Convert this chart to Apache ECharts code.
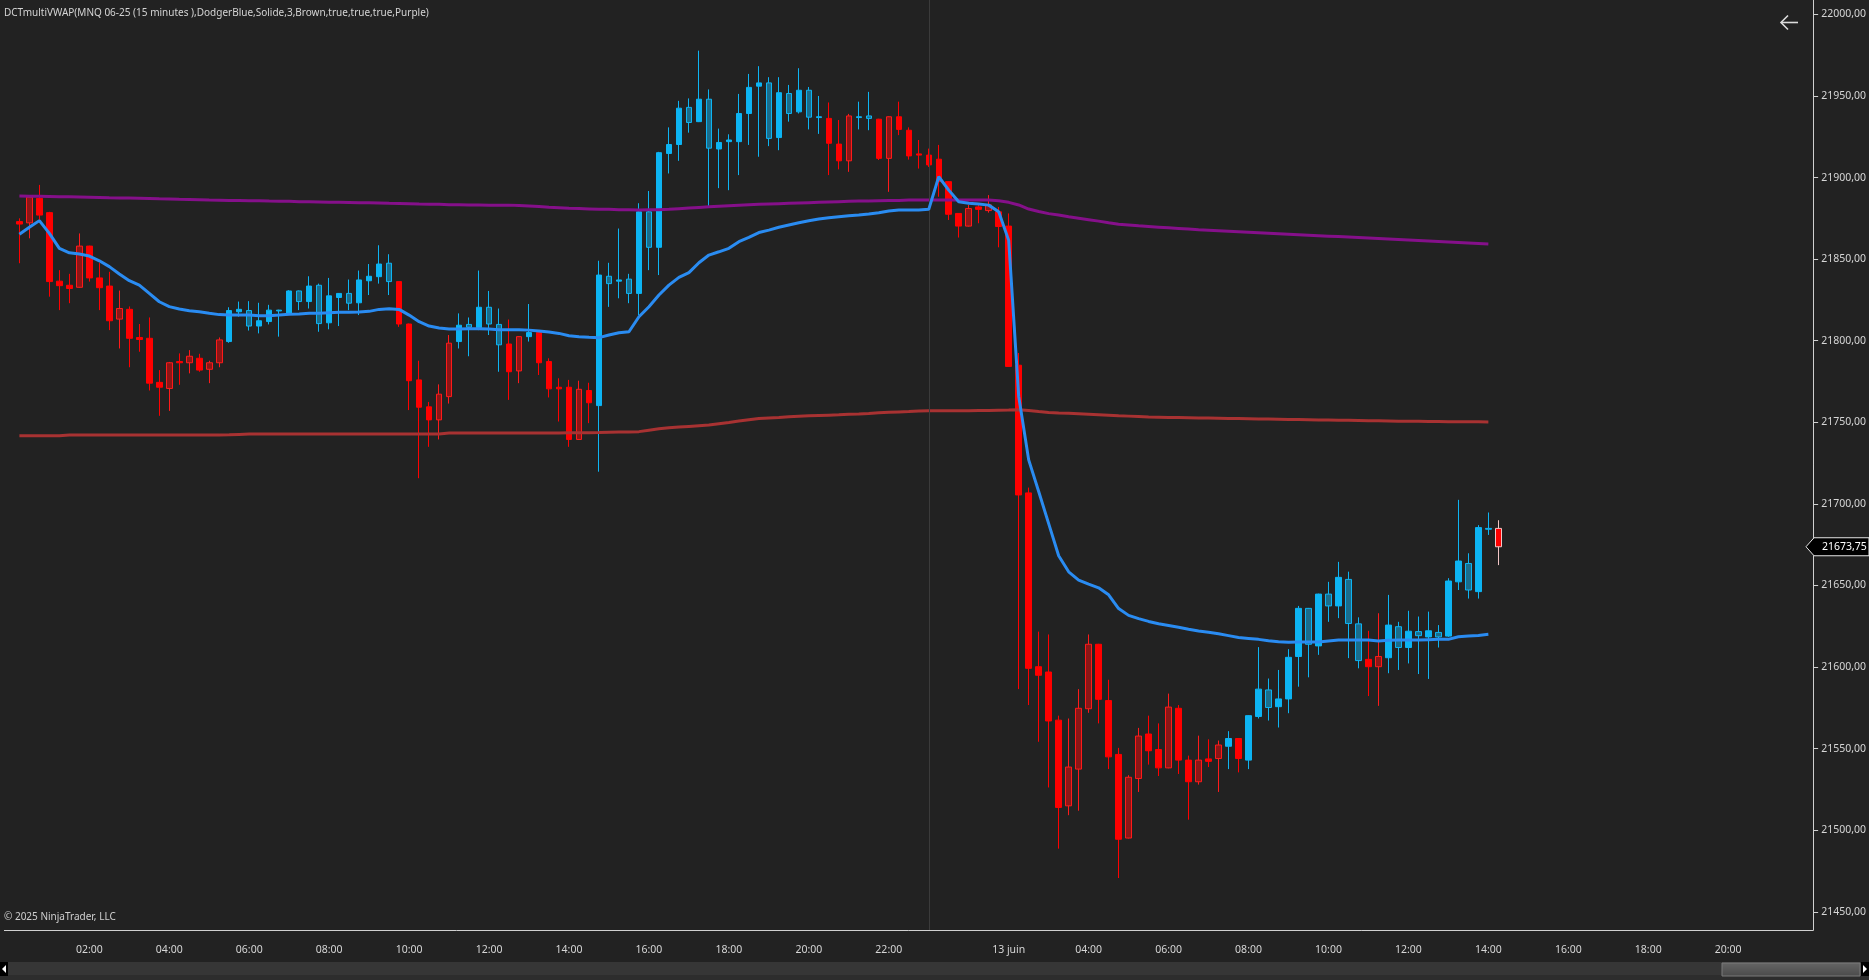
<!DOCTYPE html>
<html>
<head>
<meta charset="utf-8">
<title>MNQ 06-25 (15 minutes)</title>
<script src="https://cdn.jsdelivr.net/npm/echarts@6.0.0/dist/echarts.min.js"></script>
<style>
  html, body { margin: 0; padding: 0; background: #222222; }
  #chart { width: 1869px; height: 980px; }
</style>
</head>
<body>
<div id="chart"></div>
<script>
// 15 minute bars, first bar sits in slot 1 (00:15 on 12 june), slot 100 = 02:00 on 13 june
const firstSlot = 1;
const slotCount = 181;

const open = [
  21873, 21872.25, 21887.25, 21878.5, 21836.5, 21834, 21832.75, 21858, 21838.5, 21833.5,
  21813.25, 21819.25, 21802, 21801.5, 21774.5, 21770.75, 21787.25, 21786.5, 21789.25, 21782.5,
  21786.5, 21799.5, 21817.75, 21818.5, 21809, 21811.75, 21818.25, 21816.75, 21830.5, 21824,
  21834, 21811, 21826.5, 21829, 21823.25, 21836.75, 21839.25, 21847.5, 21836.25, 21810.25,
  21776, 21759.5, 21751.5, 21765.75, 21799.5, 21810, 21808, 21820.5, 21810, 21798,
  21781.5, 21802.5, 21805, 21787.25, 21771.5, 21771.5, 21739.5, 21769.5, 21760.25, 21839.5,
  21836.5, 21837.75, 21829, 21879, 21857.25, 21914.75, 21920.25, 21943, 21934.25, 21948,
  21917.5, 21922, 21922, 21939.25, 21956, 21958, 21924.5, 21951.5, 21940.25, 21953.5,
  21936.75, 21936.25, 21920.5, 21910.25, 21936.75, 21937.75, 21935.75, 21911.75, 21937.25, 21929,
  21914.5, 21913.75, 21911.25, 21897.5, 21878, 21870.25, 21882, 21879.75, 21879, 21870.25,
  21785, 21706.75, 21600.25, 21597, 21567.5, 21515, 21537.5, 21574.5, 21614, 21579.5,
  21546.5, 21495.25, 21531.75, 21559, 21549.5, 21538.25, 21574.75, 21543, 21529.75, 21543.75,
  21544, 21551.5, 21556.25, 21543, 21569.75, 21586, 21575.75, 21580.5, 21606.5, 21636,
  21613, 21644.75, 21637.5, 21653.75, 21626.5, 21604.75, 21600.25, 21605.75, 21624.75, 21612,
  21621.75, 21618.5, 21621.25, 21619, 21652.25, 21663.5, 21646.25, 21684.5, 21685
];
const high = [
  21875, 21889.25, 21895.5, 21879, 21843.25, 21841, 21865.75, 21858.25, 21847.75, 21842.25,
  21830.75, 21821, 21810.25, 21814.25, 21782, 21787, 21792.25, 21794.25, 21792, 21787.75,
  21802, 21820.5, 21824, 21824.25, 21823.25, 21822, 21819, 21831, 21830.75, 21839.5,
  21835, 21838.5, 21829.25, 21837.5, 21843, 21847, 21858.5, 21853, 21836.5, 21810.5,
  21787.75, 21762.5, 21773.25, 21803.5, 21816.75, 21814.25, 21843, 21830.5, 21819.75, 21813,
  21802.75, 21822.5, 21805.25, 21789.25, 21777, 21776, 21775.5, 21774.25, 21849, 21847.75,
  21868.75, 21841, 21884.25, 21891.75, 21915.75, 21930.75, 21947, 21948.5, 21977.75, 21954,
  21930, 21926.5, 21951.25, 21963.5, 21968.25, 21961.5, 21961.5, 21956.75, 21967, 21955.5,
  21950, 21946, 21935.25, 21939, 21946.5, 21952.5, 21936, 21937.5, 21946.5, 21930.75,
  21923, 21917.75, 21920, 21897.75, 21878.25, 21883.25, 21884.25, 21889.25, 21882, 21878,
  21792.5, 21710, 21621.75, 21620, 21570.25, 21568.5, 21586.5, 21620, 21614.25, 21592.25,
  21550.5, 21533.75, 21562.75, 21570.25, 21565.5, 21583.75, 21576.75, 21545.75, 21558, 21555.75,
  21555, 21560.75, 21556.5, 21570.5, 21612.25, 21593, 21598.25, 21611, 21637.5, 21636.25,
  21645, 21652.25, 21664.5, 21658.5, 21630.5, 21622.25, 21633, 21644.25, 21627.75, 21634.5,
  21631, 21634, 21625.75, 21654.5, 21702.5, 21669.75, 21687, 21694.75, 21690
];
const low = [
  21847.5, 21862.75, 21874, 21827, 21818.75, 21823, 21832.5, 21836.25, 21818.75, 21806.5,
  21795.25, 21783.75, 21793.25, 21769.5, 21754, 21757, 21773, 21780, 21781, 21774,
  21783.75, 21798.75, 21814.75, 21806.25, 21804.5, 21810, 21802.5, 21816.5, 21818.75, 21819.75,
  21805.5, 21807, 21809, 21818.75, 21815.75, 21828, 21835, 21828, 21808.5, 21757.5,
  21715.75, 21735, 21739.5, 21761.5, 21795.25, 21790.5, 21806.5, 21803.5, 21781, 21763.75,
  21774, 21799.5, 21779, 21765.25, 21750.5, 21735, 21739.25, 21749.5, 21719.75, 21820.75,
  21826, 21823, 21815.75, 21843.25, 21840.25, 21902.5, 21910.25, 21927.5, 21934, 21882.5,
  21893.5, 21892.25, 21901.5, 21920, 21912.75, 21919.25, 21916.75, 21934.25, 21939.25, 21929.5,
  21926.75, 21901.5, 21905, 21903.5, 21929.5, 21929, 21910.75, 21891.25, 21926, 21911,
  21905.5, 21906.5, 21888.25, 21874, 21863.25, 21870, 21872, 21878.5, 21857.25, 21784,
  21586.5, 21576.75, 21554.25, 21526.25, 21488.75, 21509.25, 21512, 21572, 21565.5, 21537.5,
  21470.75, 21495, 21523.5, 21540.25, 21533.25, 21538, 21534.5, 21506.5, 21528, 21538.75,
  21523.5, 21537.5, 21535.5, 21537.5, 21568.5, 21567.25, 21563, 21571.75, 21588, 21593.75,
  21607.5, 21627.75, 21630, 21605.5, 21599.25, 21582.25, 21576.25, 21596.25, 21598.25, 21602.25,
  21595.75, 21592.75, 21612, 21618.5, 21647.25, 21642, 21642, 21681, 21662.5
];
const close = [
  21871.5, 21888, 21877, 21836.25, 21833.75, 21832, 21858, 21838.5, 21832.5, 21812.25,
  21819.75, 21801.5, 21800.75, 21774, 21771.5, 21786.5, 21786.5, 21790.5, 21782, 21786.5,
  21800.5, 21818.5, 21819.25, 21809, 21812.25, 21818.75, 21818.75, 21830.5, 21824, 21833.5,
  21810.5, 21827.5, 21829, 21823, 21837.25, 21839.5, 21847, 21836.25, 21810.25, 21775.5,
  21759.25, 21751.5, 21767.25, 21798.5, 21809.5, 21808.25, 21820.5, 21810.25, 21797.5, 21781,
  21802.5, 21805, 21786.5, 21770.5, 21770.5, 21739.5, 21770.25, 21762, 21840.25, 21835,
  21837.25, 21829, 21879, 21857.25, 21915.25, 21920.25, 21942.5, 21933.75, 21948, 21918,
  21921.5, 21923, 21939.25, 21955.25, 21958, 21924, 21952, 21939.25, 21953.5, 21937,
  21937.25, 21921, 21910.25, 21937.75, 21937.25, 21936.25, 21911.75, 21937.25, 21929.5, 21913.25,
  21913.75, 21907.75, 21897.5, 21877.5, 21870.25, 21881, 21880.5, 21883.25, 21870, 21784.25,
  21705.5, 21599.25, 21595, 21567, 21514, 21538.75, 21574.75, 21614, 21580.25, 21545,
  21494.5, 21532.5, 21557.75, 21548.75, 21538.25, 21575.5, 21543, 21529.75, 21543, 21542.25,
  21552.25, 21556.25, 21544, 21570.25, 21586.5, 21575.25, 21580.5, 21606, 21636, 21614,
  21644.75, 21637.5, 21655, 21626.75, 21604, 21600.25, 21606.5, 21625.75, 21612, 21622,
  21619.25, 21622.25, 21618.5, 21652.75, 21665, 21647.25, 21685.5, 21685, 21673.75
];
// bar colour state painted by the indicator: 1 = blue, -1 = red
const trend = [
  -1, -1, -1, -1, -1, -1, -1, -1, -1, -1,
  -1, -1, -1, -1, -1, -1, -1, -1, -1, -1,
  -1, 1, 1, 1, 1, 1, 1, 1, 1, 1,
  1, 1, 1, 1, 1, 1, 1, 1, -1, -1,
  -1, -1, -1, -1, 1, 1, 1, 1, 1, -1,
  -1, 1, -1, -1, -1, -1, -1, -1, 1, 1,
  1, 1, 1, 1, 1, 1, 1, 1, 1, 1,
  1, 1, 1, 1, 1, 1, 1, 1, 1, 1,
  1, -1, -1, -1, 1, 1, -1, -1, -1, -1,
  -1, -1, -1, -1, -1, -1, -1, -1, -1, -1,
  -1, -1, -1, -1, -1, -1, -1, -1, -1, -1,
  -1, -1, -1, -1, -1, -1, -1, -1, -1, -1,
  -1, 1, -1, 1, 1, 1, 1, 1, 1, 1,
  1, 1, 1, 1, 1, -1, -1, 1, 1, 1,
  1, 1, 1, 1, 1, 1, 1, 1, -1
];

// VWAP (DodgerBlue) and the two longer VWAPs (Purple, Brown), one value per closed bar
const vwap = [
  21865.2, 21869.5, 21873.6, 21865.8, 21856.6, 21853.9, 21853.1, 21851.9, 21849.0, 21845.4,
  21840.9, 21836.8, 21834.1, 21829.0, 21823.9, 21820.9, 21819.4, 21818.4, 21817.8, 21816.8,
  21816.0, 21815.8, 21815.8, 21815.7, 21815.3, 21815.3, 21815.7, 21816.2, 21816.4, 21816.8,
  21816.8, 21817.2, 21817.4, 21817.4, 21817.6, 21818.0, 21819.2, 21819.6, 21819.2, 21815.7,
  21811.7, 21809.0, 21807.8, 21807.2, 21807.2, 21807.4, 21807.4, 21807.2, 21806.8, 21806.8,
  21806.8, 21806.5, 21805.9, 21805.3, 21804.5, 21803.1, 21802.5, 21802.1, 21801.9, 21803.5,
  21804.9, 21805.5, 21814.7, 21820.8, 21828.0, 21834.1, 21838.8, 21841.7, 21847.8, 21852.5,
  21854.5, 21856.6, 21860.7, 21863.3, 21866.3, 21867.8, 21869.5, 21870.9, 21872.3, 21873.5,
  21874.6, 21875.4, 21876.0, 21876.6, 21877.0, 21877.6, 21878.4, 21879.5, 21880.1, 21880.1,
  21880.1, 21880.5, 21900.5, 21892.3, 21885.2, 21884.2, 21883.8, 21883.1, 21879.1, 21861.5,
  21766.0, 21727.0, 21707.6, 21687.9, 21668.2, 21658.4, 21653.3, 21650.8, 21648.6, 21644.3,
  21635.9, 21631.7, 21629.7, 21628.0, 21626.6, 21625.5, 21624.4, 21623.2, 21622.1, 21621.3,
  21620.4, 21619.3, 21618.2, 21617.6, 21617.0, 21616.2, 21615.6, 21615.2, 21615.4, 21615.4,
  21615.4, 21616.0, 21616.6, 21616.6, 21616.6, 21616.6, 21616.0, 21616.4, 21616.6, 21616.6,
  21616.6, 21616.8, 21617.0, 21617.0, 21618.6, 21619.0, 21619.4, 21620.1
];
const purpleVwap = [
  21888.7, 21888.6, 21888.5, 21888.4, 21888.3, 21888.2, 21888.1, 21888.0, 21887.8, 21887.6,
  21887.5, 21887.4, 21887.3, 21887.2, 21887.0, 21886.9, 21886.7, 21886.6, 21886.4, 21886.2,
  21886.1, 21886.0, 21885.9, 21885.8, 21885.8, 21885.6, 21885.5, 21885.4, 21885.2, 21885.1,
  21885.0, 21884.9, 21884.8, 21884.7, 21884.6, 21884.5, 21884.4, 21884.2, 21884.1, 21884.0,
  21883.8, 21883.7, 21883.6, 21883.4, 21883.3, 21883.2, 21883.2, 21883.1, 21883.1, 21883.1,
  21882.8, 21882.5, 21882.2, 21881.8, 21881.5, 21881.2, 21881.0, 21880.8, 21880.6, 21880.5,
  21880.3, 21880.2, 21880.1, 21880.2, 21880.3, 21880.5, 21880.9, 21881.3, 21881.7, 21882.1,
  21882.4, 21882.7, 21883.0, 21883.3, 21883.6, 21883.8, 21884.0, 21884.2, 21884.4, 21884.6,
  21884.8, 21885.0, 21885.2, 21885.4, 21885.6, 21885.7, 21885.8, 21885.9, 21886.0, 21886.2,
  21886.2, 21886.2, 21886.3, 21886.3, 21886.2, 21886.2, 21886.2, 21886.2, 21885.8, 21884.8,
  21883.2, 21880.7, 21879.2, 21877.9, 21877.0, 21876.0, 21875.1, 21874.2, 21873.3, 21872.3,
  21871.4, 21870.9, 21870.4, 21870.0, 21869.6, 21869.2, 21868.8, 21868.4, 21868.0, 21867.7,
  21867.4, 21867.1, 21866.8, 21866.5, 21866.2, 21865.9, 21865.6, 21865.3, 21865.0, 21864.7,
  21864.4, 21864.1, 21863.8, 21863.5, 21863.2, 21862.9, 21862.6, 21862.3, 21862.0, 21861.7,
  21861.4, 21861.1, 21860.8, 21860.5, 21860.2, 21859.9, 21859.6, 21859.3
];
const brownVwap = [
  21741.8, 21741.8, 21741.8, 21741.8, 21741.8, 21742.2, 21742.2, 21742.2, 21742.2, 21742.2,
  21742.2, 21742.2, 21742.2, 21742.2, 21742.2, 21742.2, 21742.2, 21742.2, 21742.2, 21742.2,
  21742.3, 21742.4, 21742.6, 21742.8, 21742.8, 21742.8, 21742.8, 21742.8, 21742.8, 21742.8,
  21742.8, 21742.8, 21742.8, 21742.8, 21742.8, 21742.8, 21742.8, 21742.8, 21742.8, 21742.8,
  21742.8, 21742.8, 21742.9, 21743.4, 21743.5, 21743.5, 21743.5, 21743.5, 21743.5, 21743.5,
  21743.5, 21743.5, 21743.5, 21743.5, 21743.5, 21743.6, 21743.6, 21743.6, 21743.7, 21743.9,
  21744.0, 21744.1, 21744.3, 21745.2, 21746.0, 21746.7, 21747.1, 21747.5, 21747.9, 21748.3,
  21749.1, 21749.9, 21750.8, 21751.6, 21752.4, 21752.7, 21753.0, 21753.4, 21753.7, 21754.0,
  21754.2, 21754.4, 21754.6, 21754.9, 21755.1, 21755.4, 21755.8, 21756.1, 21756.4, 21756.6,
  21756.9, 21757.1, 21757.1, 21757.1, 21757.1, 21757.1, 21757.2, 21757.3, 21757.4, 21757.5,
  21757.7, 21757.3, 21756.6, 21756.0, 21755.7, 21755.5, 21755.2, 21754.9, 21754.6, 21754.3,
  21754.0, 21753.8, 21753.5, 21753.2, 21753.1, 21753.0, 21752.9, 21752.8, 21752.7, 21752.6,
  21752.5, 21752.4, 21752.3, 21752.2, 21752.1, 21752.0, 21751.9, 21751.8, 21751.7, 21751.6,
  21751.5, 21751.4, 21751.3, 21751.2, 21751.1, 21751.0, 21750.9, 21750.8, 21750.7, 21750.6,
  21750.6, 21750.5, 21750.5, 21750.4, 21750.4, 21750.3, 21750.3, 21750.2
];

// time axis labels and the slot they sit on
const tickSlots = [8, 16, 24, 32, 40, 48, 56, 64, 72, 80, 88, 100, 108, 116, 124, 132, 140, 148, 156, 164, 172];
const tickLabels = ['02:00', '04:00', '06:00', '08:00', '10:00', '12:00', '14:00', '16:00', '18:00', '20:00', '22:00',
  '13 juin', '04:00', '06:00', '08:00', '10:00', '12:00', '14:00', '16:00', '18:00', '20:00'];
const sessionBreakSlot = 92;

const priceMin = 21438.9;
const priceMax = 22008.8;

const titleText = 'DCTmultiVWAP(MNQ 06-25 (15 minutes ),DodgerBlue,Solide,3,Brown,true,true,true,Purple)';
const FONT = '"Noto Sans", "Open Sans", sans-serif';

// formatage à la française
const fmt = v => v.toFixed(2).replace('.', ',');

const tickMap = {};
tickSlots.forEach((s, i) => { tickMap[s] = tickLabels[i]; });

const categories = [];
for (let i = 0; i < slotCount; i++) categories.push(String(i));

const blueBars = new Array(slotCount).fill('-');
const redBars = new Array(slotCount).fill('-');
const lastIdx = close.length - 1;
close.forEach((c, i) => {
  const item = { value: [open[i], c, low[i], high[i]] };
  if (i === lastIdx) {
    // bar still forming: pale outline
    item.itemStyle = { borderColor0: '#f2c6c6', borderColor: '#f2c6c6' };
  }
  if (trend[i] > 0) blueBars[i + firstSlot] = item;
  else redBars[i + firstSlot] = item;
});

const toSlots = arr => {
  const out = new Array(slotCount).fill(null);
  arr.forEach((v, i) => { out[i + firstSlot] = v; });
  return out;
};

const chart = echarts.init(document.getElementById('chart'));

chart.setOption({
  backgroundColor: '#222222',
  animation: false,
  textStyle: { fontFamily: FONT },
  grid: { left: 4.4, right: 54.6, top: 0, bottom: 50 },
  xAxis: {
    type: 'category',
    data: categories,
    boundaryGap: true,
    axisLine: { lineStyle: { color: '#d0d0d0', width: 1 } },
    axisTick: {
      alignWithLabel: true,
      interval: i => i in tickMap,
      length: 5,
      lineStyle: { color: '#d0d0d0' }
    },
    axisLabel: {
      interval: i => i in tickMap,
      formatter: (v, i) => tickMap[i] || '',
      color: '#d6d6d6',
      fontSize: 10.5,
      margin: 15,
      fontFamily: FONT
    },
    splitLine: { show: false }
  },
  yAxis: {
    type: 'value',
    position: 'right',
    min: priceMin,
    max: priceMax,
    splitNumber: 11,
    axisLine: { show: true, lineStyle: { color: '#d0d0d0', width: 1 } },
    axisTick: { show: true, length: 5, lineStyle: { color: '#d0d0d0' } },
    axisLabel: {
      color: '#d6d6d6',
      fontSize: 10.5,
      margin: 8,
      fontFamily: FONT,
      showMinLabel: false,
      showMaxLabel: false,
      formatter: v => (Math.abs(v % 50) < 1e-6 ? fmt(v) : '')
    },
    splitLine: { show: false }
  },
  series: [
    {
      name: 'blue bars',
      type: 'candlestick',
      data: blueBars,
      barWidth: 6,
      itemStyle: {
        color: '#0db4f3',
        color0: '#1b6d8c',
        borderColor: '#0db4f3',
        borderColor0: '#0db4f3',
        borderWidth: 1
      },
      markLine: {
        silent: true,
        symbol: ['none', 'none'],
        label: { show: false },
        lineStyle: { color: '#3b3b3b', width: 1, type: 'solid' },
        data: [{ xAxis: sessionBreakSlot }]
      }
    },
    {
      name: 'red bars',
      type: 'candlestick',
      data: redBars,
      barWidth: 6,
      itemStyle: {
        color: '#8c1616',
        color0: '#ff0000',
        borderColor: '#ff1a1a',
        borderColor0: '#ff0000',
        borderWidth: 1
      }
    },
    {
      name: 'VWAP',
      type: 'line',
      data: toSlots(purpleVwap),
      showSymbol: false,
      z: 4,
      lineStyle: { color: '#85108a', width: 3 }
    },
    {
      name: 'VWAP brown',
      type: 'line',
      data: toSlots(brownVwap),
      showSymbol: false,
      z: 4,
      lineStyle: { color: '#a83232', width: 3 }
    },
    {
      name: 'VWAP session',
      type: 'line',
      data: toSlots(vwap),
      showSymbol: false,
      z: 5,
      lineStyle: { color: '#2a8cf2', width: 3 }
    }
  ]
});

// price marker on the right axis + decorations
const lastClose = close[lastIdx];
const py = chart.convertToPixel({ yAxisIndex: 0 }, lastClose);

chart.setOption({
  graphic: [
    {
      type: 'text', left: 4, top: 8,
      style: { text: titleText, fill: '#d4d4d4', font: '10px ' + FONT }
    },
    {
      type: 'text', left: 4, top: 912,
      style: { text: '© 2025 NinjaTrader, LLC', fill: '#cfcfcf', font: '10px ' + FONT }
    },
    {
      type: 'polyline',
      shape: { points: [[1798, 22.5], [1781, 22.5]] },
      style: { stroke: '#dcdcdc', lineWidth: 1.6, fill: null }
    },
    {
      type: 'polyline',
      shape: { points: [[1788, 15.5], [1781, 22.5], [1788, 29.5]] },
      style: { stroke: '#dcdcdc', lineWidth: 1.6, fill: null }
    },
    {
      type: 'polygon',
      shape: { points: [[1806, py], [1814, py - 9], [1869, py - 9], [1869, py + 9], [1814, py + 9]] },
      style: { fill: '#000000', stroke: '#e6e6e6', lineWidth: 1 },
      z: 10
    },
    {
      type: 'text', x: 1822, y: py, z: 11,
      style: { text: fmt(lastClose), fill: '#ffffff', font: '10.5px ' + FONT, verticalAlign: 'middle' }
    },
    // scrollbar
    {
      type: 'rect', shape: { x: 0, y: 962, width: 1869, height: 18 },
      style: { fill: '#363636' }
    },
    {
      type: 'rect', shape: { x: 0, y: 975, width: 1869, height: 5 },
      style: { fill: '#2d2d2d' }
    },
    {
      type: 'rect', shape: { x: 1722, y: 963, width: 138, height: 13 },
      style: {
        fill: new echarts.graphic.LinearGradient(0, 0, 0, 1, [
          { offset: 0, color: '#666666' }, { offset: 1, color: '#4a4a4a' }
        ]),
        stroke: '#7a7a7a', lineWidth: 1
      }
    },
    {
      type: 'rect', shape: { x: 0, y: 962, width: 8, height: 14 },
      style: { fill: '#000000' }
    },
    {
      type: 'polygon', shape: { points: [[2, 969], [6, 965], [6, 973]] },
      style: { fill: '#ffffff' }
    },
    {
      type: 'rect', shape: { x: 1861, y: 962, width: 8, height: 14 },
      style: { fill: '#000000' }
    },
    {
      type: 'polygon', shape: { points: [[1867, 969], [1863, 965], [1863, 973]] },
      style: { fill: '#ffffff' }
    }
  ]
});
</script>
</body>
</html>
